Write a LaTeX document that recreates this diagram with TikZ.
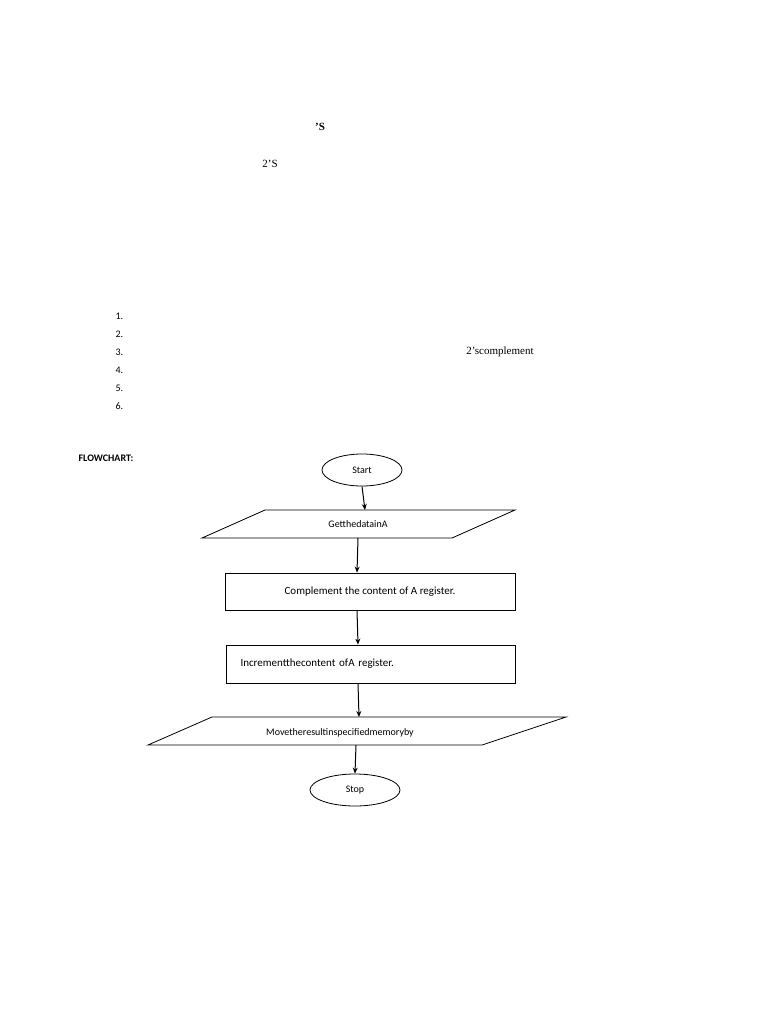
\documentclass[tikz,border=0pt]{standalone}
\usepackage{fontspec}
\setmainfont{Liberation Serif}
\newfontfamily\calfont{Carlito}
\usetikzlibrary{shapes.geometric,arrows.meta}
\begin{document}
\begin{tikzpicture}[x=1pt,y=-1pt,
 box/.style={draw,line width=0.8pt},
 lbl/.style={font=\calfont\fontsize{10}{12}\selectfont},
 arr/.style={-{Stealth[length=6pt,width=5pt]},line width=1pt}]
\useasboundingbox (0,0) rectangle (768,1024);
\node[font=\bfseries\fontsize{11}{13}\selectfont] (t1) at (320,127) {’S};
\node[font=\fontsize{11}{13}\selectfont] (t2) at (270,164) {2’S};
\foreach \i/\y in {1/316,2/334,3/352,4/370,5/388,6/406}
 \node[font=\calfont\fontsize{10}{12}\selectfont,anchor=west] (n\i) at (112,\y) {\i.};
\node[font=\fontsize{11}{13}\selectfont] (c2) at (500,352) {2’scomplement};
\node[font=\calfont\bfseries\fontsize{10}{12}\selectfont] (fc) at (106,458) {FLOWCHART:};
\node[box,ellipse,minimum width=80pt,minimum height=32pt,lbl] (start) at (362,470) {Start};
\draw[box] (202,538)--(265,510)--(515,510)--(452,538)--cycle;
\node[lbl] (get) at (358,524) {GetthedatainA};
\coordinate (gett) at (365,510); \coordinate (getb) at (358,538);
\node[box,minimum width=290pt,minimum height=37pt,font=\calfont\fontsize{11}{13}\selectfont] (comp) at (370,591.5) {Complement the content of A register.};
\node[box,minimum width=289pt,minimum height=38pt,font=\calfont\fontsize{11}{13}\selectfont,text width=260pt] (inc) at (370.5,664) {Incrementthecontent ofA register.};
\draw[box] (148,745)--(212,717)--(566,717)--(482,745)--cycle;
\node[lbl] (mov) at (340,733) {Movetheresultinspecifiedmemoryby};
\coordinate (movt) at (359,717); \coordinate (movb) at (356,745);
\node[box,ellipse,minimum width=90pt,minimum height=32pt,lbl] (stop) at (355,790) {Stop};
\draw[arr] (start.south) -- (gett);
\draw[arr] (getb) -- (comp.north -| 357,0);
\draw[arr] (comp.south -| 357,0) -- (inc.north -| 358,0);
\draw[arr] (inc.south -| 358,0) -- (movt);
\draw[arr] (movb) -- (stop.north);
\end{tikzpicture}
\end{document}
